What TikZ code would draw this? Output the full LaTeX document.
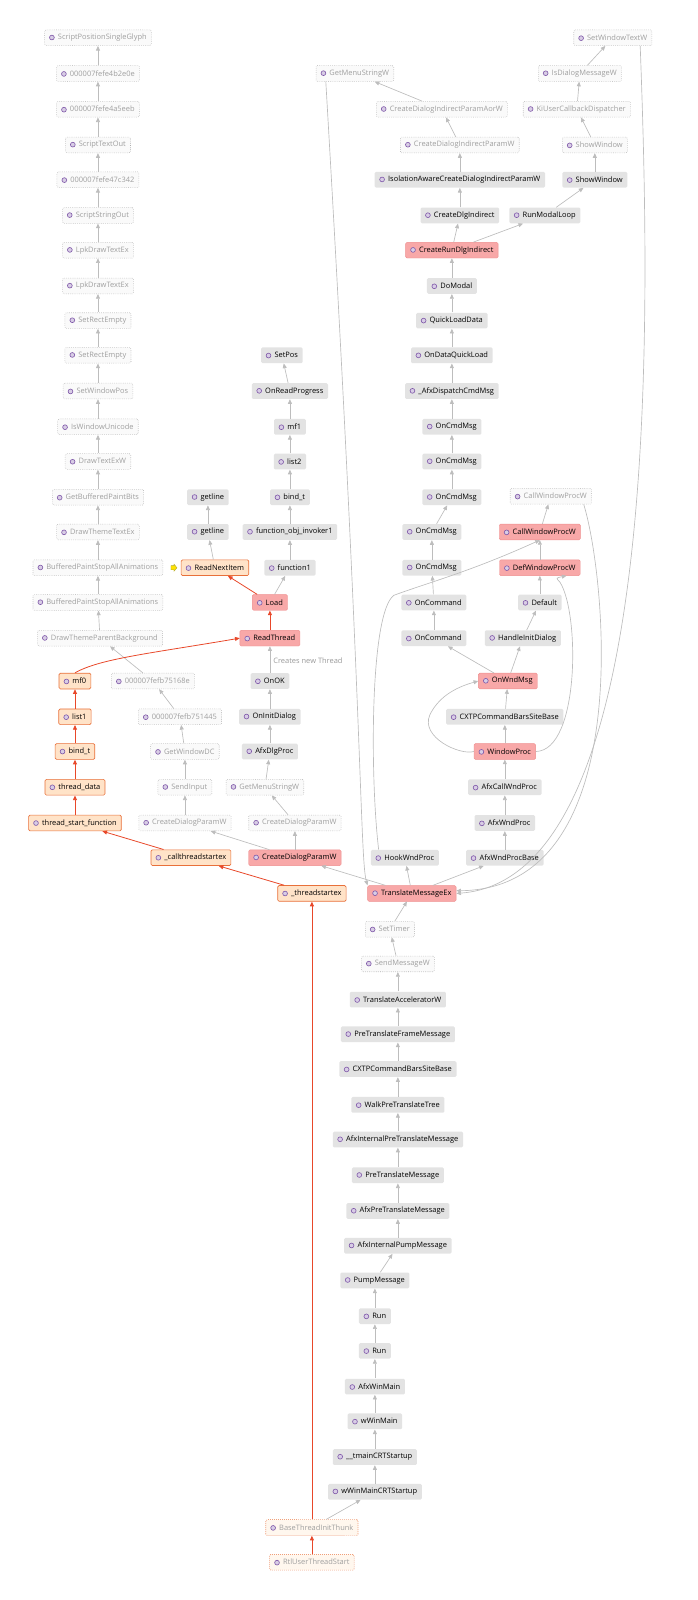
\documentclass[tikz,border=0pt]{standalone}
\usepackage{fontspec}
\setmainfont{Open Sans}
\usetikzlibrary{arrows.meta}
\definecolor{icoc}{HTML}{7E57A8}
\definecolor{graybg}{HTML}{E3E3E3}
\definecolor{pinkbg}{HTML}{F8A8A8}
\definecolor{pinkbd}{HTML}{EE8E8E}
\definecolor{orbg}{HTML}{FFE3C8}
\definecolor{orbd}{HTML}{E8703A}
\definecolor{redl}{HTML}{E8482A}
\definecolor{edgeg}{HTML}{BDBDBD}
\newcommand\ico{\tikz[baseline=-0.55ex]\draw[draw=icoc,fill=icoc!30,line width=0.45pt](0,0) circle(1.8pt);\hspace{2.5pt}}
\tikzset{
 box/.style={rounded corners=1pt,minimum height=11.8pt,inner xsep=3.5pt,inner ysep=1pt,font=\fontsize{5.6}{6.5}\selectfont},
 gb/.style={box,fill=graybg,text=black},
 db/.style={box,fill=gray!4,draw=gray!65,densely dotted,text=gray!75},
 pb/.style={box,fill=pinkbg,draw=pinkbd,line width=0.3pt,text=black},
 ob/.style={box,fill=orbg,draw=orbd,line width=0.5pt,text=black},
 odb/.style={box,fill=orbg!30,draw=orbd,densely dotted,line width=0.5pt,text=gray!75},
 ge/.style={draw=edgeg,line width=0.5pt,-{Triangle[length=3.5pt,width=3pt]}},
 re/.style={draw=redl,line width=0.6pt,-{Triangle[length=3.5pt,width=3pt]}},
}
\begin{document}
\begin{tikzpicture}[x=0.75pt,y=-0.766pt]
\useasboundingbox (0,0) rectangle (698,1567);
% left column
\node[db] (l1) at (98,37) {\ico ScriptPositionSingleGlyph};
\node[db] (l2) at (98,72) {\ico 000007fefe4b2e0e};
\node[db] (l3) at (98,107) {\ico 000007fefe4a5eeb};
\node[db] (l4) at (98,142) {\ico ScriptTextOut};
\node[db] (l5) at (98,176) {\ico 000007fefe47c342};
\node[db] (l6) at (98,211) {\ico ScriptStringOut};
\node[db] (l7) at (98,245) {\ico LpkDrawTextEx};
\node[db] (l8) at (98,280) {\ico LpkDrawTextEx};
\node[db] (l9) at (98,314) {\ico SetRectEmpty};
\node[db] (l10) at (98,348) {\ico SetRectEmpty};
\node[db] (l11) at (98,383) {\ico SetWindowPos};
\node[db] (l12) at (98,418) {\ico IsWindowUnicode};
\node[db] (l13) at (98,452) {\ico DrawTextExW};
\node[db] (l14) at (98,487) {\ico GetBufferedPaintBits};
\node[db] (l15) at (98,521) {\ico DrawThemeTextEx};
\node[db] (l16) at (98,556) {\ico BufferedPaintStopAllAnimations};
\node[db] (l17) at (98,590) {\ico BufferedPaintStopAllAnimations};
\node[db] (l18) at (100,625) {\ico DrawThemeParentBackground};
\foreach \a/\b in {l2/l1,l3/l2,l4/l3,l5/l4,l6/l5,l7/l6,l8/l7,l9/l8,l10/l9,l11/l10,l12/l11,l13/l12,l14/l13,l15/l14,l16/l15,l17/l16,l18/l17}
  \draw[ge] (\a) -- (\b);
% orange chain
\node[ob] (mf0) at (75,667) {\ico mf0};
\node[ob] (list1) at (75,702) {\ico list1};
\node[ob] (bindl) at (75,736) {\ico bind\_t};
\node[ob] (td) at (75,771) {\ico thread\_data};
\node[ob] (tsf) at (75,806) {\ico thread\_start\_function};
\node[ob] (cts) at (191,840) {\ico \_callthreadstartex};
\node[ob] (ts) at (312,875) {\ico \_threadstartex};
\node[odb] (btit) at (312,1496) {\ico BaseThreadInitThunk};
\node[odb] (ruts) at (312,1530) {\ico RtlUserThreadStart};
% second column
\node[db] (a1) at (153,667) {\ico 000007fefb75168e};
\node[db] (a2) at (180,702) {\ico 000007fefb751445};
\node[db] (a3) at (185,736) {\ico GetWindowDC};
\node[db] (a4) at (185,771) {\ico SendInput};
\node[db] (a5) at (185,806) {\ico CreateDialogParamW};
% middle
\node[gb] (gl1) at (208,487) {\ico getline};
\node[gb] (gl2) at (208,521) {\ico getline};
\node[ob] (rni) at (215,556) {\ico ReadNextItem};
\fill[yellow!85!orange,draw=olive!70,line width=0.3pt] (171,554)--(174,554)--(174,552.5)--(177,556)--(174,559.5)--(174,558)--(171,558)--cycle;
\node[gb] (sp) at (282,348) {\ico SetPos};
\node[gb] (orp) at (290,383) {\ico OnReadProgress};
\node[gb] (mf1) at (290,418) {\ico mf1};
\node[gb] (list2) at (290,452) {\ico list2};
\node[gb] (bindm) at (290,487) {\ico bind\_t};
\node[gb] (foi) at (290,521) {\ico function\_obj\_invoker1};
\node[gb] (f1) at (290,556) {\ico function1};
\node[pb] (load) at (270,590) {\ico Load};
\node[pb] (rt) at (270,625) {\ico ReadThread};
\node[gb] (onok) at (270,667) {\ico OnOK};
\node[gb] (oid) at (270,702) {\ico OnInitDialog};
\node[gb] (adp) at (270,736) {\ico AfxDlgProc};
\node[db] (gms2) at (265,771) {\ico GetMenuStringW};
\node[db] (cdp2) at (295,806) {\ico CreateDialogParamW};
\node[pb] (cdp3) at (295,840) {\ico CreateDialogParamW};
% right-middle
\node[db] (gms) at (355,72) {\ico GetMenuStringW};
\node[db] (cdia) at (442,107) {\ico CreateDialogIndirectParamAorW};
\node[db] (cdi) at (460,142) {\ico CreateDialogIndirectParamW};
\node[gb] (iso) at (460,176) {\ico IsolationAwareCreateDialogIndirectParamW};
\node[gb] (cdl) at (460,211) {\ico CreateDlgIndirect};
\node[pb] (crdi) at (452,245) {\ico CreateRunDlgIndirect};
\node[gb] (dm) at (452,280) {\ico DoModal};
\node[gb] (qld) at (452,314) {\ico QuickLoadData};
\node[gb] (odq) at (452,348) {\ico OnDataQuickLoad};
\node[gb] (adc) at (452,383) {\ico \_AfxDispatchCmdMsg};
\node[gb] (oc1) at (452,418) {\ico OnCmdMsg};
\node[gb] (oc2) at (452,452) {\ico OnCmdMsg};
\node[gb] (oc3) at (452,487) {\ico OnCmdMsg};
\node[gb] (oc4) at (432,521) {\ico OnCmdMsg};
\node[gb] (oc5) at (432,556) {\ico OnCmdMsg};
\node[gb] (ocm1) at (434,590) {\ico OnCommand};
\node[gb] (ocm2) at (434,625) {\ico OnCommand};
% right
\node[db] (swt) at (613,37) {\ico SetWindowTextW};
\node[db] (idm) at (580,72) {\ico IsDialogMessageW};
\node[db] (kucd) at (577,107) {\ico KiUserCallbackDispatcher};
\node[db] (sw1) at (595,142) {\ico ShowWindow};
\node[gb] (sw2) at (595,176) {\ico ShowWindow};
\node[gb] (rml) at (545,211) {\ico RunModalLoop};
\node[db] (cwp1) at (551,486) {\ico CallWindowProcW};
\node[pb] (cwp2) at (540,521) {\ico CallWindowProcW};
\node[pb] (dwp) at (540,556) {\ico DefWindowProcW};
\node[gb] (def) at (540,590) {\ico Default};
\node[gb] (hid) at (523,625) {\ico HandleInitDialog};
\node[pb] (owm) at (508,667) {\ico OnWndMsg};
\node[gb] (cxtp1) at (505,702) {\ico CXTPCommandBarsSiteBase};
\node[pb] (wp) at (505,736) {\ico WindowProc};
\node[gb] (acwp) at (505,771) {\ico AfxCallWndProc};
\node[gb] (awp) at (505,806) {\ico AfxWndProc};
\node[gb] (awpb) at (505,840) {\ico AfxWndProcBase};
\node[gb] (hwp) at (405,840) {\ico HookWndProc};
\node[pb] (tme) at (412,875) {\ico TranslateMessageEx};
% lower chain
\node[db] (st) at (390,910) {\ico SetTimer};
\node[db] (smw) at (398,944) {\ico SendMessageW};
\node[gb] (taw) at (398,979) {\ico TranslateAcceleratorW};
\node[gb] (ptfm) at (398,1013) {\ico PreTranslateFrameMessage};
\node[gb] (cxtp2) at (398,1047) {\ico CXTPCommandBarsSiteBase};
\node[gb] (wptt) at (398,1082) {\ico WalkPreTranslateTree};
\node[gb] (aiptm) at (398,1116) {\ico AfxInternalPreTranslateMessage};
\node[gb] (ptm) at (398,1151) {\ico PreTranslateMessage};
\node[gb] (aptm) at (398,1186) {\ico AfxPreTranslateMessage};
\node[gb] (aipm) at (398,1220) {\ico AfxInternalPumpMessage};
\node[gb] (pm) at (375,1254) {\ico PumpMessage};
\node[gb] (run1) at (375,1289) {\ico Run};
\node[gb] (run2) at (375,1323) {\ico Run};
\node[gb] (awm) at (375,1358) {\ico AfxWinMain};
\node[gb] (wwm) at (375,1392) {\ico wWinMain};
\node[gb] (tmcs) at (375,1427) {\ico \_\_tmainCRTStartup};
\node[gb] (wwmcs) at (375,1461) {\ico wWinMainCRTStartup};
% gray edges
\foreach \a/\b in {a1/l18,a2/a1,a3/a2,a4/a3,a5/a4,cdp3/a5,cdp3/cdp2,cdp2/gms2,gms2/adp,adp/oid,oid/onok,load/f1,f1/foi,foi/bindm,bindm/list2,list2/mf1,mf1/orp,orp/sp,gl2/gl1,rni/gl2,
 cdia/gms,cdi/cdia,iso/cdi,cdl/iso,crdi/cdl,dm/crdi,qld/dm,odq/qld,adc/odq,oc1/adc,oc2/oc1,oc3/oc2,oc4/oc3,oc5/oc4,ocm1/oc5,ocm2/ocm1,owm/ocm2,owm/hid,hid/def,def/dwp,dwp/cwp2,cwp2/cwp1,
 crdi/rml,rml/sw2,sw2/sw1,sw1/kucd,kucd/idm,idm/swt,cxtp1/owm,wp/cxtp1,acwp/wp,awp/acwp,awpb/awp,tme/awpb,tme/hwp,tme/cdp3,st/tme,smw/st,taw/smw,ptfm/taw,cxtp2/ptfm,wptt/cxtp2,aiptm/wptt,ptm/aiptm,aptm/ptm,aipm/aptm,pm/aipm,run1/pm,run2/run1,awm/run2,wwm/awm,tmcs/wwm,wwmcs/tmcs,btit/wwmcs}
  \draw[ge] (\a) -- (\b);
\draw[ge] (onok) -- node[right,font=\fontsize{5.6}{6.5}\selectfont,text=gray!80,pos=0.45,xshift=-1pt]{Creates new Thread} (rt);
% curves
\draw[ge] (gms.south west)++(10,0) coordinate (g0) (g0) .. controls (363,700) and (360,840) .. (tme.north west);
\draw[ge] (swt.south east)++(-12,0) coordinate (s0) (s0) .. controls (650,300) and (665,860) .. (tme.east);
\draw[ge] (cwp1.south east)++(-8,0) coordinate (c0) (c0) .. controls (605,560) and (640,870) .. ([yshift=2pt]tme.east);
\draw[ge] (hwp.north west)++(8,0) coordinate (h0) (h0) .. controls (370,760) and (370,600) .. (394,583) .. controls (430,570) and (470,560) .. (cwp2.south);
\draw[ge] (wp.west) .. controls (460,740) and (420,722) .. (430,700) .. controls (440,680) and (460,672) .. (owm.west);
\draw[ge] (wp.east) .. controls (580,735) and (580,600) .. (560,570) .. controls (556,566) .. ([xshift=20pt]dwp.south);
% red edges
\foreach \a/\b in {list1/mf0,bindl/list1,td/bindl,tsf/td,cts/tsf,ts/cts,btit/ts,ruts/btit,rt/load,load/rni}
  \draw[re] (\a) -- (\b);
\draw[re] (mf0.north) .. controls (100,645) and (150,640) .. (rt.west);
\end{tikzpicture}
\end{document}
